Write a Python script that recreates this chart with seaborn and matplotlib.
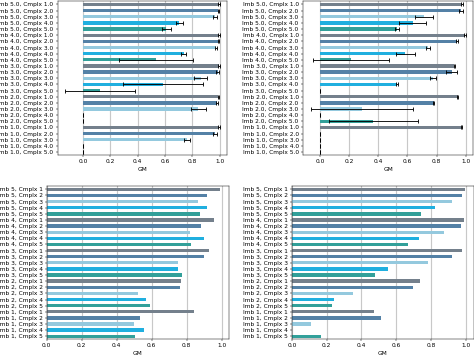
import numpy as np
import pandas as pd
import matplotlib
matplotlib.use('Agg')
import matplotlib.pyplot as plt
import seaborn as sns

# Ordering of rows: Imb 5 -> 1, each with Cmplx 1 -> 5
imb_levels = [5, 4, 3, 2, 1]
cmplx_levels = [1, 2, 3, 4, 5]
cmplx_colors = ['slategray', 'steelblue', 'skyblue', 'deepskyblue', 'lightseagreen']

# top-left panel: mean GM and its spread
tl_gm = [0.995, 0.99, 0.967, 0.705, 0.61,
         0.995, 0.99, 0.972, 0.737, 0.537,
         0.995, 0.985, 0.86, 0.585, 0.125,
         0.99, 0.98, 0.845, 0.0, 0.0,
         0.995, 0.965, 0.76, 0.0, 0.0]
tl_err = [0.004, 0.005, 0.014, 0.025, 0.032,
          0.004, 0.005, 0.008, 0.018, 0.27,
          0.005, 0.01, 0.05, 0.295, 0.255,
          0.005, 0.01, 0.055, 0.0, 0.0,
          0.005, 0.012, 0.02, 0.0, 0.0]

# top-right panel
tr_gm = [0.975, 0.967, 0.715, 0.636, 0.53,
         0.995, 0.94, 0.74, 0.585, 0.214,
         0.922, 0.905, 0.776, 0.53, 0.0,
         0.945, 0.78, 0.285, 0.0, 0.365,
         0.97, 0.0, 0.0, 0.0, 0.0]
tr_err = [0.008, 0.012, 0.06, 0.092, 0.014,
          0.004, 0.005, 0.014, 0.064, 0.262,
          0.003, 0.038, 0.02, 0.006, 0.0,
          0.004, 0.005, 0.35, 0.0, 0.305,
          0.005, 0.0, 0.0, 0.0, 0.0]

# bottom-left panel
bl_gm = [0.99, 0.914, 0.863, 0.914, 0.878,
         0.958, 0.884, 0.817, 0.899, 0.825,
         0.926, 0.899, 0.75, 0.75, 0.771,
         0.77, 0.764, 0.522, 0.566, 0.589,
         0.842, 0.531, 0.499, 0.554, 0.505]

# bottom-right panel
br_gm = [0.995, 0.98, 0.92, 0.825, 0.74,
         0.99, 0.975, 0.877, 0.73, 0.667,
         0.977, 0.923, 0.785, 0.552, 0.48,
         0.738, 0.697, 0.352, 0.242, 0.23,
         0.47, 0.51, 0.112, 0.0, 0.165]

labels_float = [f'Imb {i:.1f}, Cmplx {c:.1f}' for i in imb_levels for c in cmplx_levels]
labels_int = [f'Imb {i}, Cmplx {c}' for i in imb_levels for c in cmplx_levels]
cmplx_col = [c for i in imb_levels for c in cmplx_levels]
palette = dict(zip(cmplx_levels, cmplx_colors))


def draw_panel(ax, labels, gm, err=None, xlim=None):
    df = pd.DataFrame({'label': labels, 'GM': gm, 'cmplx': cmplx_col})
    sns.barplot(data=df, x='GM', y='label', hue='cmplx', palette=palette,
                dodge=False, width=0.55, errorbar=None, legend=False,
                orient='h', ax=ax, zorder=2)
    if err is not None:
        ax.errorbar(gm, np.arange(len(gm)), xerr=err, fmt='none',
                    ecolor='black', elinewidth=1.5, capsize=3.5, capthick=1.5,
                    zorder=3)
    ax.set_ylim(len(gm) - 0.5, -0.5)
    if xlim is not None:
        ax.set_xlim(*xlim)
    ax.set_xticks([0.0, 0.2, 0.4, 0.6, 0.8, 1.0])
    ax.grid(axis='x', color='#c8c8c8', lw=2.0)
    ax.grid(axis='y', visible=False)
    ax.set_axisbelow(True)
    ax.set_xlabel('GM')
    ax.set_ylabel('')


W, H, DPI = 474, 356, 42
fig = plt.figure(figsize=(W / DPI, H / DPI), dpi=DPI)

ax_tl = fig.add_axes([57.5 / W, 1 - 155.1 / H, 169.9 / W, 153.7 / H])
ax_tr = fig.add_axes([302.8 / W, 1 - 155.1 / H, 170.6 / W, 153.7 / H])
ax_bl = fig.add_axes([46.7 / W, 1 - 339.3 / H, 182.3 / W, 153.0 / H])
ax_br = fig.add_axes([292.0 / W, 1 - 339.3 / H, 181.5 / W, 153.0 / H])

draw_panel(ax_tl, labels_float, tl_gm, tl_err, xlim=(-0.1865, 1.0565))
draw_panel(ax_tr, labels_float, tr_gm, tr_err, xlim=(-0.118, 1.053))
draw_panel(ax_bl, labels_int, bl_gm, xlim=(0, 1.042))
draw_panel(ax_br, labels_int, br_gm, xlim=(0, 1.045))

fig.savefig('out.png', dpi=DPI)
